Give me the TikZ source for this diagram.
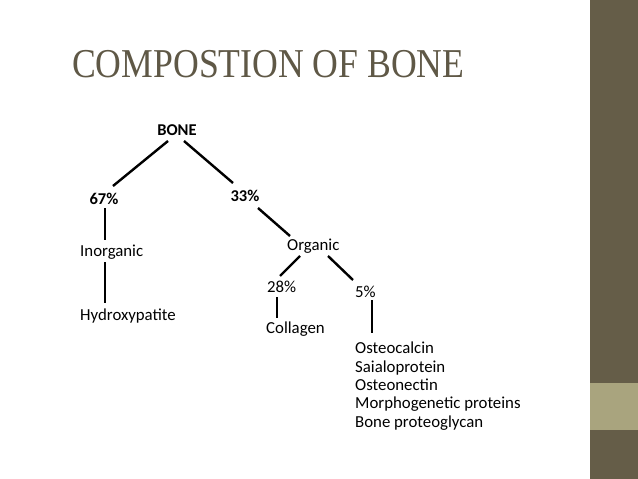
\documentclass[tikz,border=0pt]{standalone}
\usepackage{fontspec}
\setmainfont{Carlito}
\newfontfamily\titlefont{Liberation Serif}
\definecolor{olive}{HTML}{655D48}
\definecolor{lightolive}{HTML}{A9A47E}
\definecolor{titlec}{HTML}{5F5846}
\begin{document}
\begin{tikzpicture}[x=1pt,y=-1pt,
  lbl/.style={font=\fontsize{16.8}{19}\selectfont,inner sep=0pt,anchor=west},
  blbl/.style={font=\bfseries\fontsize{16.5}{19}\selectfont,inner sep=0pt,anchor=center},
  edge/.style={line width=2.4pt}]
\useasboundingbox (0,0) rectangle (638,479);
\fill[white] (0,0) rectangle (638,479);
\fill[olive] (590,0) rectangle (638,479);
\fill[lightolive] (590,383) rectangle (638,430);
\node[anchor=base west,inner sep=0pt,text=titlec,xscale=0.87] (title) at (72,77)
  {\titlefont\fontsize{41}{45}\selectfont COMPOSTION OF BONE};
\node[blbl] (bone) at (177,130) {BONE};
\node[blbl] (p67) at (104,199) {67\%};
\node[blbl] (p33) at (245,196) {33\%};
\node[lbl] (inorg) at (80,252) {Inorganic};
\node[lbl] (hydro) at (80,316) {Hydroxypatite};
\node[lbl] (org) at (287,246) {Organic};
\node[lbl] (p28) at (267,287) {28\%};
\node[lbl] (p5) at (355,292) {5\%};
\node[lbl] (coll) at (266,329) {Collagen};
\node[lbl,align=left,anchor=north west,font=\fontsize{16.8}{18.3}\selectfont] (list) at (355,342)
  {Osteocalcin\\Saialoprotein\\Osteonectin\\Morphogenetic proteins\\Bone proteoglycan};
\coordinate (a1) at (168,141); \coordinate (a2) at (113,186);
\coordinate (b1) at (184,141); \coordinate (b2) at (233,183);
\coordinate (c1) at (258,208); \coordinate (c2) at (290,236);
\coordinate (d1) at (105,208); \coordinate (d2) at (105,240);
\coordinate (e1) at (105,262); \coordinate (e2) at (105,303);
\coordinate (f1) at (300,256); \coordinate (f2) at (280,276);
\coordinate (g1) at (328,256); \coordinate (g2) at (353,280);
\coordinate (h1) at (277,297); \coordinate (h2) at (277,318);
\coordinate (i1) at (372,300); \coordinate (i2) at (372,333);
\foreach \u/\v in {a1/a2,b1/b2,c1/c2,d1/d2,e1/e2,f1/f2,g1/g2,h1/h2,i1/i2}
  \draw[edge] (\u) -- (\v);
\end{tikzpicture}
\end{document}
